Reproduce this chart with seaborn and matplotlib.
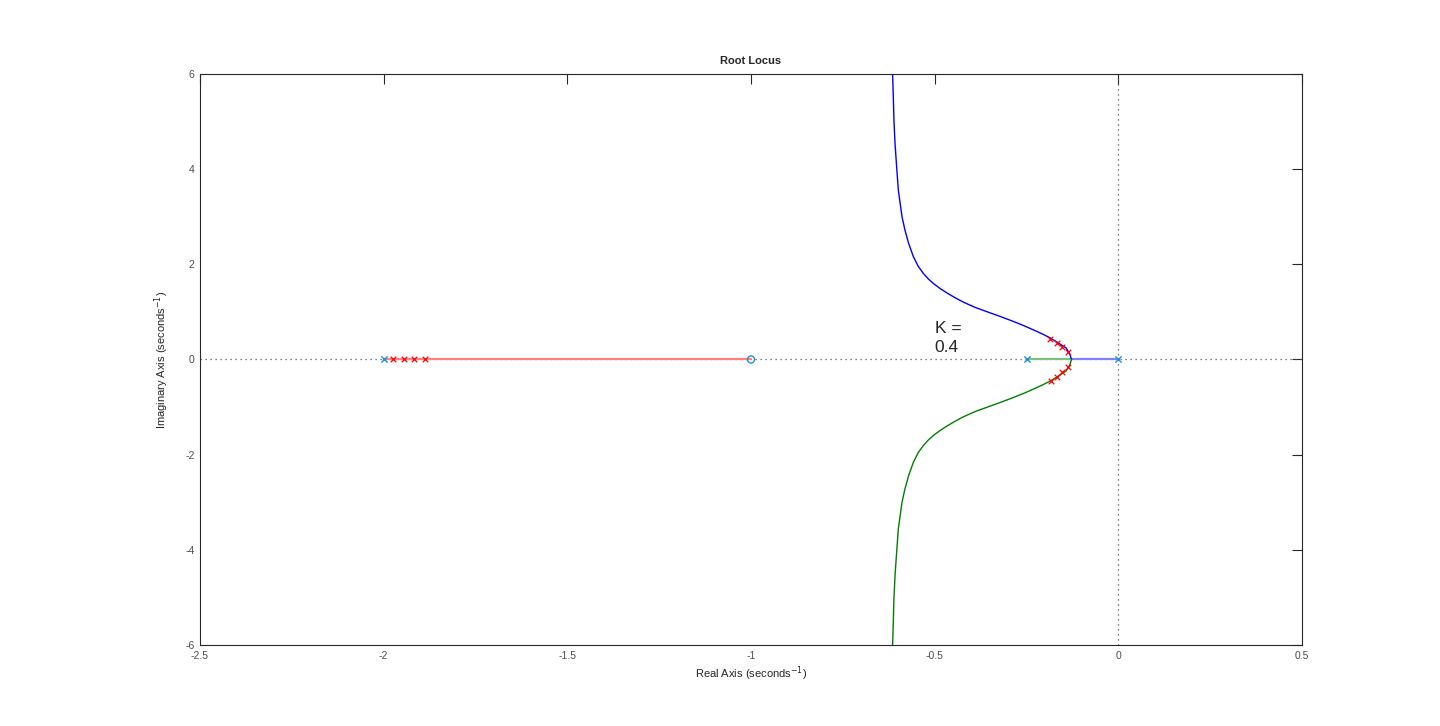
import numpy as np
import pandas as pd
import seaborn as sns
import matplotlib
matplotlib.use("Agg")
import matplotlib.pyplot as plt

# open loop poles / zeros
poles_re = [0.0, -0.25, -2.0]
zeros_re = [-1.0]

# upper complex branch (blue)
upper_re = [-0.127, -0.129, -0.131, -0.136, -0.142, -0.154, -0.168, -0.186, -0.204,
            -0.222, -0.254, -0.286, -0.322, -0.358, -0.390, -0.422, -0.445, -0.467,
            -0.485, -0.504, -0.517, -0.531, -0.545, -0.558, -0.571, -0.581, -0.589,
            -0.594, -0.599, -0.603, -0.608, -0.611, -0.613, -0.615]
upper_im = [0.0, 0.03, 0.09, 0.16, 0.24, 0.30, 0.37, 0.455, 0.525,
            0.59, 0.70, 0.80, 0.905, 1.005, 1.095, 1.205, 1.30, 1.40,
            1.49, 1.60, 1.69, 1.81, 1.96, 2.16, 2.44, 2.72, 3.00,
            3.28, 3.56, 3.98, 4.54, 5.03, 5.60, 6.10]

# lower complex branch (green)
lower_re = [-0.127, -0.129, -0.131, -0.136, -0.142, -0.154, -0.168, -0.186, -0.204,
            -0.222, -0.254, -0.286, -0.322, -0.358, -0.390, -0.422, -0.445, -0.467,
            -0.485, -0.504, -0.517, -0.531, -0.545, -0.558, -0.571, -0.581, -0.589,
            -0.594, -0.599, -0.603, -0.608, -0.611, -0.613, -0.615]
lower_im = [0.0, -0.03, -0.09, -0.16, -0.24, -0.30, -0.37, -0.455, -0.525,
            -0.59, -0.70, -0.80, -0.905, -1.005, -1.095, -1.205, -1.30, -1.40,
            -1.49, -1.60, -1.69, -1.81, -1.96, -2.16, -2.44, -2.72, -3.00,
            -3.28, -3.56, -3.98, -4.54, -5.03, -5.60, -6.10]

# real axis segments
blue_real = [0.0, -0.127]
green_real = [-0.25, -0.127]
red_real = [-2.0, -1.0]

# closed loop roots for the chosen gains
k_re = [-0.186, -0.167, -0.153, -0.137, -0.137, -0.153, -0.167, -0.183,
        -1.975, -1.945, -1.917, -1.887]
k_im = [0.43, 0.35, 0.26, 0.16, -0.16, -0.26, -0.36, -0.45,
        0.0, 0.0, 0.0, 0.0]

sns.set_style("white")
plt.rcParams['font.family'] = ['Liberation Sans', 'DejaVu Sans']

fig = plt.figure(figsize=(14.4, 7.26), dpi=100)
ax = fig.add_axes([0.1389, 0.1116, 0.7653, 0.7865])

# dotted zero lines
ax.axhline(0, color='#555555', lw=0.9, ls=(0, (1, 3)), zorder=1)
ax.axvline(0, color='#555555', lw=0.9, ls=(0, (1, 3)), zorder=1)

# real axis parts of the locus
sns.lineplot(x=blue_real, y=[0, 0], color='#8080ff', lw=1.6, ax=ax, sort=False)
sns.lineplot(x=green_real, y=[0, 0], color='#80bf80', lw=1.6, ax=ax, sort=False)
sns.lineplot(x=red_real, y=[0, 0], color='#ff8080', lw=1.6, ax=ax, sort=False)

# complex branches
up = pd.DataFrame({'re': upper_re, 'im': upper_im})
lo = pd.DataFrame({'re': lower_re, 'im': lower_im})
sns.lineplot(data=up, x='re', y='im', color='#0000ff', lw=1.0, ax=ax, sort=False)
sns.lineplot(data=lo, x='re', y='im', color='#007f00', lw=1.0, ax=ax, sort=False)

# poles and zero
sns.scatterplot(x=poles_re, y=[0] * len(poles_re), marker='x', s=20, color='#1f8fe0',
                linewidth=1.0, ax=ax, zorder=5)
ax.scatter(zeros_re, [0] * len(zeros_re), marker='o', s=26, facecolors='none',
           edgecolors='#1f8fe0', linewidths=1.0, zorder=5)

# gain markers
sns.scatterplot(x=k_re, y=k_im, marker='x', s=16, color='#ff0000', linewidth=0.9,
                ax=ax, zorder=6)

ax.text(-0.5, 0.1, "K =\n0.4", fontsize=12.5, ha='left', va='bottom', linespacing=1.3)

ax.set_xlim(-2.5, 0.5)
ax.set_ylim(-6, 6)
ax.set_xticks(np.arange(-2.5, 0.51, 0.5))
ax.set_xticklabels(['-2.5', '-2', '-1.5', '-1', '-0.5', '0', '0.5'])
ax.set_yticks([-6, -4, -2, 0, 2, 4, 6])
ax.set_yticklabels(['-6', '-4', '-2', '0', '2', '4', '6'])
ax.tick_params(direction='in', length=7, width=0.8, top=True, right=True,
               labelsize=7.5, colors='#262626', labelcolor='#4d4d4d', pad=4)
for sp in ax.spines.values():
    sp.set_color('#262626')
    sp.set_linewidth(0.8)

ax.set_title('Root Locus', fontsize=8, fontweight='bold', pad=7)
ax.set_xlabel('Real Axis (seconds$^{-1}$)', fontsize=8, color='#262626', labelpad=3)
ax.set_ylabel('Imaginary Axis (seconds$^{-1}$)', fontsize=8, color='#262626', labelpad=10)

fig.savefig('out.png', dpi=100)
